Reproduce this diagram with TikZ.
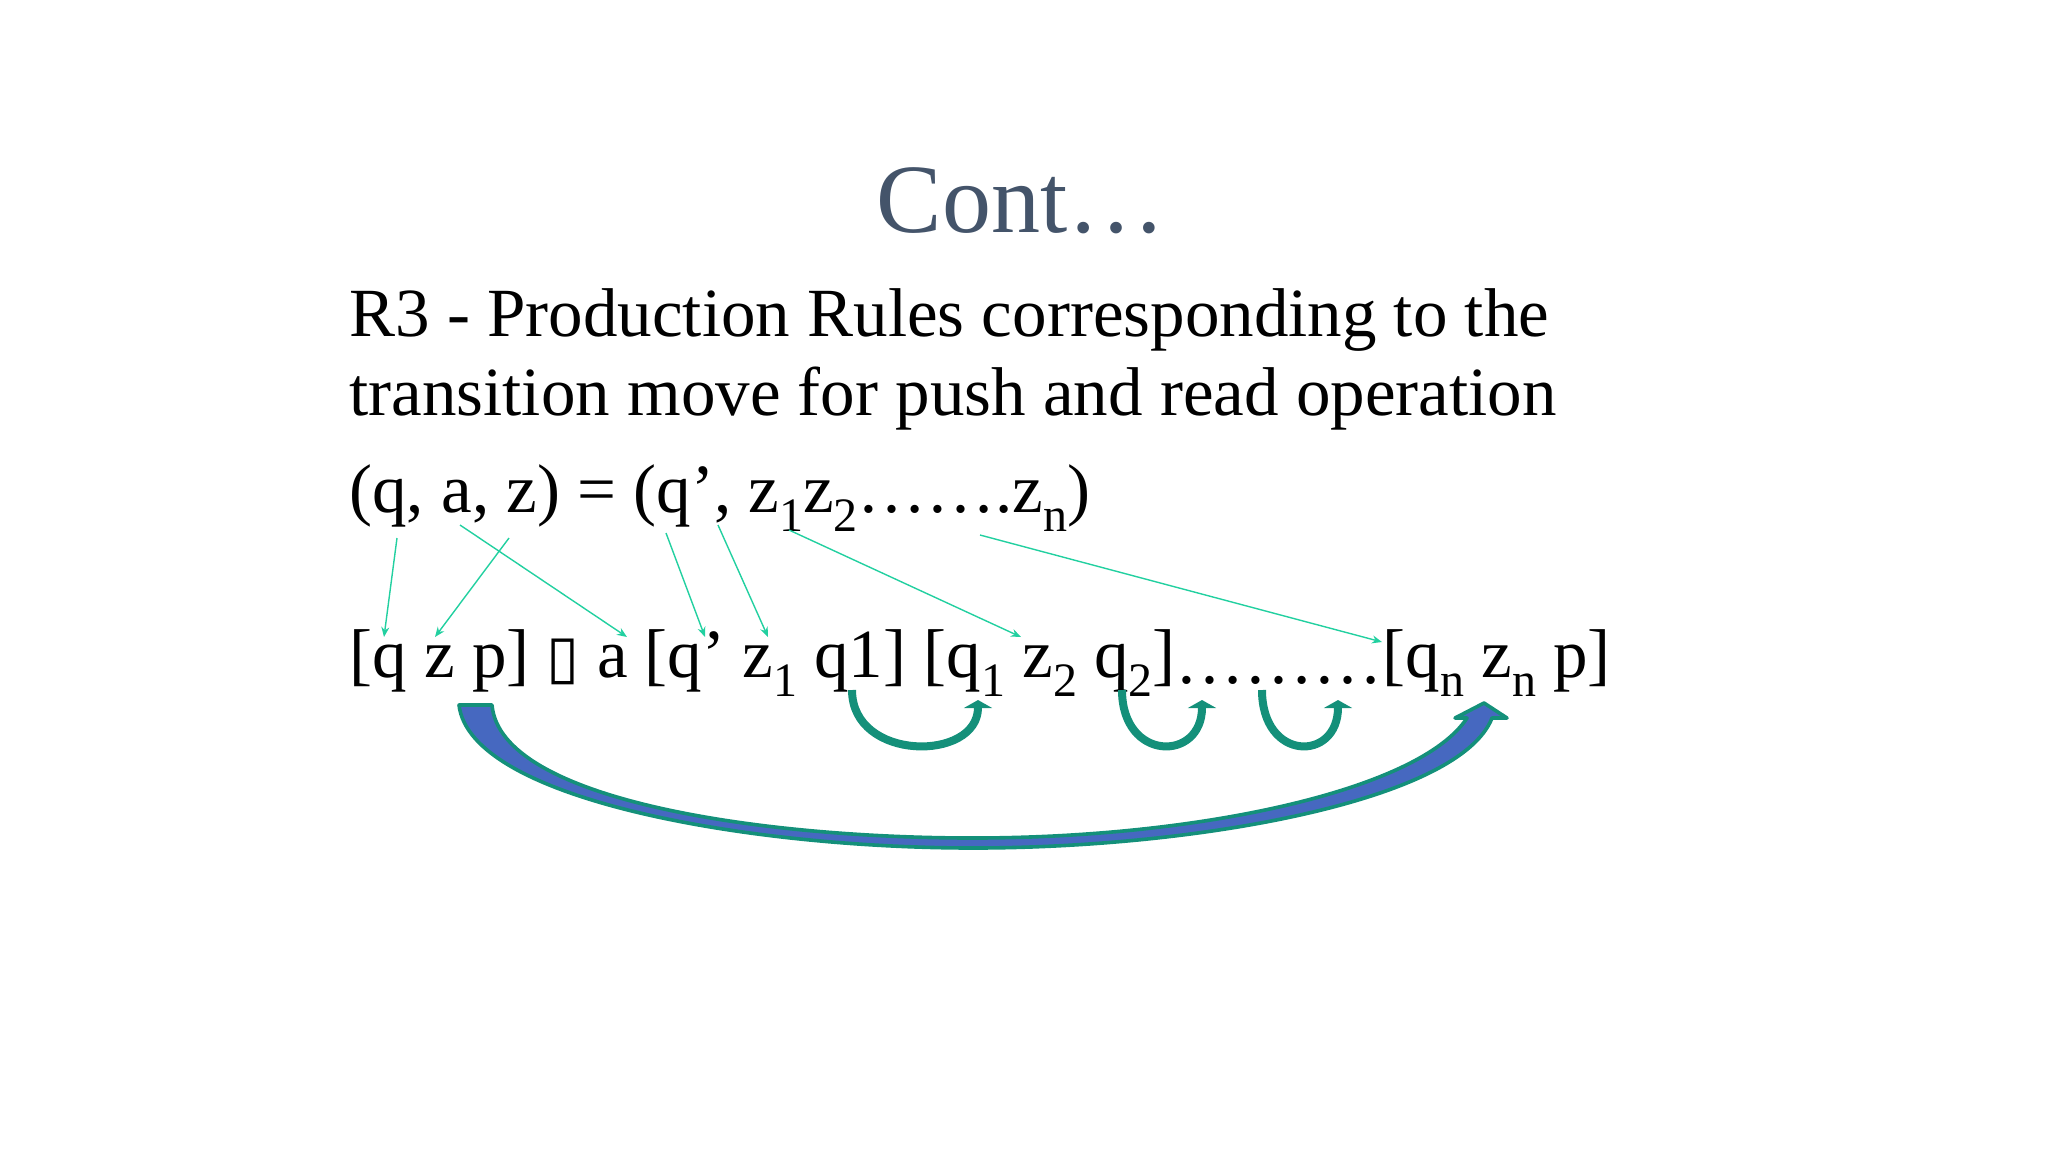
\documentclass[tikz,border=0pt]{standalone}
\usepackage{fontspec}
\setmainfont{Liberation Serif}
\newfontfamily\djv{DejaVu Sans}
\usetikzlibrary{arrows.meta}
\definecolor{titlec}{HTML}{44546A}
\definecolor{thin}{HTML}{22D0A0}
\definecolor{arrg}{HTML}{14907A}
\definecolor{arrb}{HTML}{4668C0}
\newcommand{\sbs}[1]{\raisebox{-0.28em}{\fontsize{24}{24}\selectfont #1}}
\tikzset{
  txt/.style={anchor=base west, inner sep=0pt, font=\fontsize{34.5}{40}\selectfont},
  thinarr/.style={draw=thin, line width=0.7pt, -{Stealth[length=5pt,width=4pt]}},
  loop/.style={draw=arrg, line width=4pt, -{Triangle[length=4pt,width=14pt]}},
}
\begin{document}
\begin{tikzpicture}[x=0.5pt,y=-0.5pt]
\useasboundingbox (0,0) rectangle (2048,1152);
\node[anchor=base, inner sep=0pt, text=titlec, font=\fontsize{49}{55}\selectfont] (title) at (1021,232) {Cont…};
\node[txt] (l1) at (349,336) {R3 - Production Rules corresponding to the};
\node[txt] (l2) at (349,415) {transition move for push and read operation};
\node[txt] (l3) at (349,512) {(q, a, z) = (q’, z\sbs{1}z\sbs{2}…….z\sbs{n})};
\node[txt] (l4) at (349,677) {[q z p] {\djv\fontsize{30}{30}\selectfont ▯} a [q’ z\sbs{1} q1] [q\sbs{1} z\sbs{2} q\sbs{2}]\raisebox{-0.1em}{………}[q\sbs{n} z\sbs{n} p]};
% thin arrows
\coordinate (s1) at (397,538); \coordinate (e1) at (384,637);
\coordinate (s2) at (509,538); \coordinate (e2) at (435,637);
\coordinate (s3) at (460,525); \coordinate (e3) at (627,637);
\coordinate (s4) at (666,533); \coordinate (e4) at (705,637);
\coordinate (s5) at (718,525); \coordinate (e5) at (768,637);
\coordinate (s6) at (789,530); \coordinate (e6) at (1021,637);
\coordinate (s7) at (980,535); \coordinate (e7) at (1382,642);
\foreach \i in {1,...,7} \draw[thinarr] (s\i) -- (e\i);
% small loops
\coordinate (a1) at (852,690); \coordinate (b1) at (978,700);
\coordinate (a2) at (1122,690); \coordinate (b2) at (1202,700);
\coordinate (a3) at (1262,690); \coordinate (b3) at (1338,700);
\draw[loop] (a1) .. controls (852,762) and (978,762) .. (b1);
\draw[loop] (a2) .. controls (1122,762) and (1202,762) .. (b2);
\draw[loop] (a3) .. controls (1262,762) and (1338,762) .. (b3);
% big arrow
\draw[arrg, fill=arrb, line width=1.8pt, line join=round]
  (459,705) .. controls (470,800) and (750,848) .. (973,848)
  .. controls (1200,848) and (1460,800) .. (1492,718)
  -- (1507,718) -- (1484,703) -- (1455,718) -- (1467,718)
  .. controls (1420,790) and (1200,838) .. (973,838)
  .. controls (760,838) and (500,800) .. (492,705) -- cycle;
\end{tikzpicture}
\end{document}
